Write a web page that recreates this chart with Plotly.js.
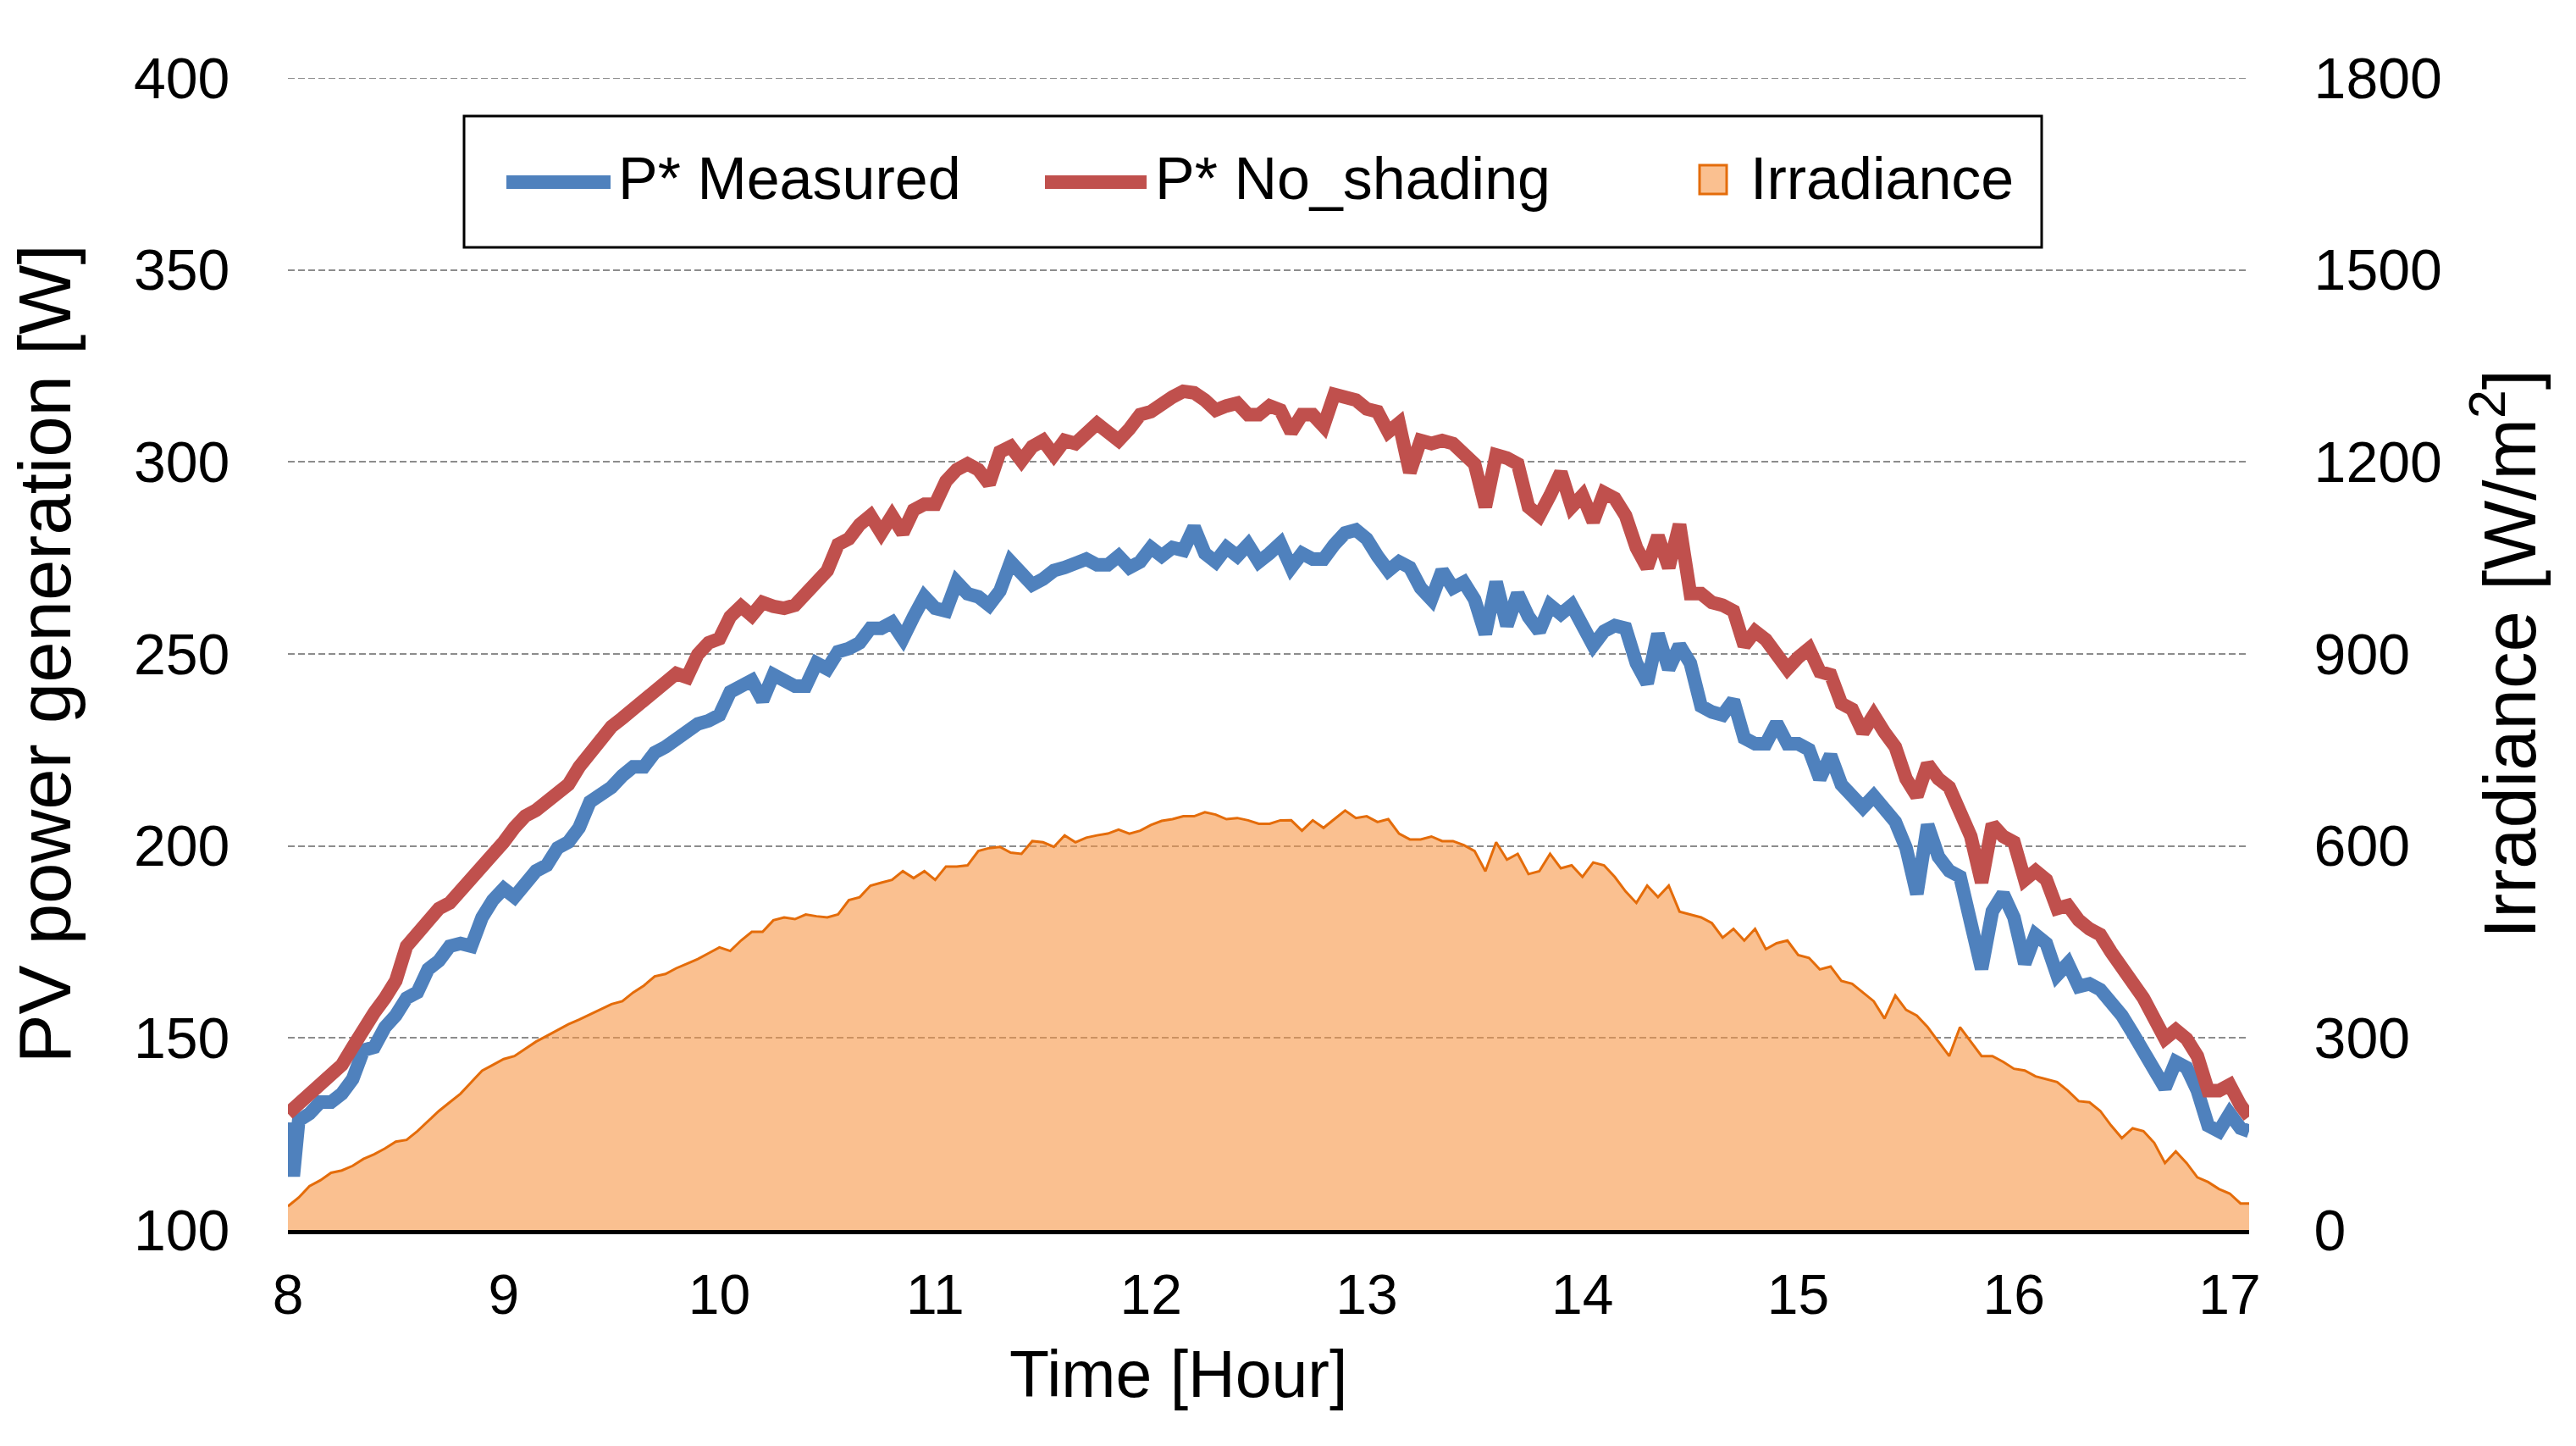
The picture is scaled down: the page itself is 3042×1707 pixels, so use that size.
<!DOCTYPE html>
<html>
<head>
<meta charset="utf-8">
<script src="https://cdn.plot.ly/plotly-3.0.1.min.js"></script>
<style>html,body{margin:0;padding:0;background:#fff;}#chart{width:3042px;height:1707px;}</style>
</head>
<body>
<div id="chart"></div>
<script>
// Time of day [hour]
const timeHour = [8.00,8.025,8.05,8.10,8.15,8.20,8.25,8.30,8.35,8.40,8.45,8.50,8.55,8.60,8.65,8.70,8.75,8.80,8.85,8.90,8.95,
9.00,9.05,9.10,9.15,9.20,9.25,9.30,9.35,9.40,9.45,9.50,9.55,9.60,9.65,9.70,9.75,9.80,9.85,9.90,9.95,
10.00,10.05,10.10,10.15,10.20,10.25,10.30,10.35,10.40,10.45,10.50,10.55,10.60,10.65,10.70,10.75,10.80,10.85,10.90,10.95,
11.00,11.05,11.10,11.15,11.20,11.25,11.30,11.35,11.40,11.45,11.50,11.55,11.60,11.65,11.70,11.75,11.80,11.85,11.90,11.95,
12.00,12.05,12.10,12.15,12.20,12.25,12.30,12.35,12.40,12.45,12.50,12.55,12.60,12.65,12.70,12.75,12.80,12.85,12.90,12.95,
13.00,13.05,13.10,13.15,13.20,13.25,13.30,13.35,13.40,13.45,13.50,13.55,13.60,13.65,13.70,13.75,13.80,13.85,13.90,13.95,
14.00,14.05,14.10,14.15,14.20,14.25,14.30,14.35,14.40,14.45,14.50,14.55,14.60,14.65,14.70,14.75,14.80,14.85,14.90,14.95,
15.00,15.05,15.10,15.15,15.20,15.25,15.30,15.35,15.40,15.45,15.50,15.55,15.60,15.65,15.70,15.75,15.80,15.85,15.90,15.95,
16.00,16.05,16.10,16.15,16.20,16.25,16.30,16.35,16.40,16.45,16.50,16.55,16.60,16.65,16.70,16.75,16.80,16.85,16.90,16.95,
17.00,17.05,17.09];

// P* Measured [W]
const pMeasured = [128,114,128.5,130.3,133.3,133.3,135.5,139.3,146.8,147.6,152.8,155.9,160.4,161.9,167.9,170.1,173.9,174.6,173.9,181.4,185.9,
188.9,186.7,190.4,193.5,195,199.5,201,204.8,211.5,213,215.3,218.3,220.6,220.6,224.3,225.8,228.1,229.6,231.8,232.6,
234.1,240.1,241.6,243.1,237.9,244.6,243.1,241.6,241.6,247.6,246.1,250.6,251.4,252.9,256.7,256.7,258.2,254,259.7,264.9,
261.9,261.2,268.7,265.7,264.9,262.7,266.4,274,271,268,269.5,271.7,272.5,274,274.7,273.2,273.2,275.5,272.5,274,
277.7,275.5,277.7,277,283,276.2,274,277.7,275.5,278.5,274,276.2,278.8,272.5,276.2,274.7,274.7,278.5,281.5,282.3,
280,275.5,271.7,274,272.5,267.2,264.2,271.7,267.2,268.7,264.2,255.2,268.7,257.4,265.7,259.7,255.9,262.7,260.4,262.7,
258.2,252.2,255.9,257.4,256.7,247.6,242.4,255.2,246.1,252.2,247.6,236.4,234.9,234.1,237.9,228.1,226.6,226.6,232,226.6,
226.6,225.1,217.5,223.6,216,212.3,210,213,209.3,206.3,199.5,187.5,205.5,197.2,193.5,192,180,168,183,187.5,
181.4,169.4,176.9,174.6,166.4,169.4,163.4,164.1,162.6,159.6,155.9,151.3,146.8,142.3,137,143.8,142.3,136.3,127.2,125.7,
130.3,126.5,125.7];

// P* No_shading [W]
const pNoShading = [130.3,131.5,132.5,135.5,137.8,140,143,147.6,152.8,156.6,160.4,164.9,173.9,176.9,179.9,183.7,185.2,188.2,191.2,194.2,198,
201,204.8,207.8,209.3,211.5,214.5,216,220.6,224.3,228.8,231.1,233.3,235.6,237.9,240.9,243.1,244.9,243.9,249.9,252.9,
254,259.7,262.4,260,263.4,262.4,261.9,262.7,265.7,269.5,271.7,278.5,280,283.7,286,281.5,286,281.5,287.5,289,
289,295,298,299.5,298,294.3,302.6,304,300.3,304,305.6,301.8,305.6,304.8,307,310,307.8,305.6,308.6,312.3,
313.1,315.3,316.9,318.4,318,316.1,313.5,314.6,315.3,312.3,312.3,314.6,313.5,307.8,312.3,312.3,309.3,317.6,316.9,316.1,
313.8,313.1,307.8,310.1,297.3,305.6,304.8,305.6,304.8,302.6,299.5,288.3,301.8,301,299.5,288.3,286,291.3,297.3,288.3,
291.3,284.5,292,290.5,286,277.7,272.5,280.7,272.5,283.7,265.7,265.7,263.4,262.7,261.2,252.2,255.9,253.7,250,246.1,
249.1,251.4,245.4,244.6,237.1,235.6,229.6,234.1,229.6,225.8,217.5,213,221.3,217.5,215.3,209.3,202.5,190.5,205.6,202.5,
201,191.2,193.5,191.2,183.7,184.5,180.7,178.4,176.9,172.4,168.6,164.9,160.4,155.1,149.8,152.1,149.8,145.3,136.3,136.3,
137.8,132.5,129.5];

// Irradiance [W/m2]
const irradiance = [37,44,50.6,68.6,77.6,89.4,93,100.2,111,118.3,127.3,138.1,140.8,154.4,170.6,186,199.5,213,231,249,258,
267,271.7,282.6,294.3,303.3,312.4,321.4,328.6,336.7,344,353,357.5,371,381.9,396.3,400,409,416.2,423.4,432.4,
441.5,436,452.3,465.8,465.8,483.9,488.4,485.7,493,490.2,488.4,493,515.5,520,538,542.6,547,560.6,549.8,560.6,
547,567.9,567.9,569.7,592.2,596.7,598.6,589.5,587.7,607.6,605.8,598.6,616.6,605.8,613,616.6,619.3,625.6,619.3,623.8,
632.9,639.2,641.9,646.4,646.4,652.7,649.1,641.9,643.7,640.1,634.7,634.7,640,640.1,623.8,640.1,628.3,641.9,655.4,643.7,
646.4,637.4,641.9,619.3,610.3,610.3,614.8,607.6,607.6,601.3,592.2,560.6,605.8,578.7,587.7,556.1,560.6,587.7,565.1,569.7,
551.6,574.2,569.7,551.6,529,511,538,520,538,497.4,493,488.4,479.4,456.8,470.4,452.3,470.4,438.8,448,452.3,
429.7,425.2,407.2,411.7,389.1,384.6,371,357.5,330.4,366.5,344,335,316.9,294.3,271.7,316.9,294.3,271.7,271.7,262.7,
251.9,249.2,240.1,235.6,231.1,217.6,201.3,199.5,186,163.4,143.5,158.9,154.4,136.3,104.7,122.8,104.7,82.2,74.9,64.1,
56.9,41.5,41.5];

const xTicks = [8,9,10,11,12,13,14,15,16,17];
const powerTicks = [100,150,200,250,300,350,400];
const irrTicks = [0,300,600,900,1200,1500,1800];

const FONT = '"Liberation Sans", Arial, Helvetica, sans-serif';
const BLUE = '#4F81BD', RED = '#C0504D', ORANGE_LINE = '#E46C0A', ORANGE_FILL = 'rgba(247,150,70,0.6)';
const GRID = '#8c8c8c';

const traces = [
  {x: timeHour, y: irradiance, name: 'Irradiance', type: 'scatter', mode: 'lines',
   yaxis: 'y', fill: 'tozeroy', fillcolor: ORANGE_FILL, line: {color: ORANGE_LINE, width: 3}},
  {x: timeHour, y: pMeasured, name: 'P* Measured', type: 'scatter', mode: 'lines',
   yaxis: 'y2', line: {color: BLUE, width: 16}},
  {x: timeHour, y: pNoShading, name: 'P* No_shading', type: 'scatter', mode: 'lines',
   yaxis: 'y2', line: {color: RED, width: 16}}
];

// plot area in px: left 340, right 2656, top 92, bottom 1452
const L = 340, R = 2656, T = 92, B = 1452;
const px = v => (v - L) / (R - L);
const py = v => (B - v) / (B - T);

const legFont = {family: FONT, size: 70, color: '#000'};

const layout = {
  width: 3042, height: 1707,
  margin: {l: L, r: 3042 - R, t: T, b: 1707 - B, pad: 0},
  paper_bgcolor: '#fff', plot_bgcolor: 'rgba(0,0,0,0)',
  showlegend: false,
  font: {family: FONT, color: '#000'},
  xaxis: {
    range: [8, 17.09], tickvals: xTicks, ticktext: xTicks.map(String),
    showgrid: false, zeroline: false,
    showline: true, linecolor: '#000', linewidth: 5,
    ticks: 'outside', ticklen: 15, tickcolor: 'rgba(0,0,0,0)',
    tickfont: {family: FONT, size: 66, color: '#000'},
    automargin: false
  },
  yaxis: {
    side: 'right', range: [0, 1800], tickvals: irrTicks, ticktext: irrTicks.map(String),
    showgrid: false, zeroline: false, showline: false,
    ticks: 'outside', ticklen: 62, tickcolor: 'rgba(0,0,0,0)',
    tickfont: {family: FONT, size: 68, color: '#000'},
    title: {text: 'Irradiance [W/m<sup>2</sup>]', font: {family: FONT, size: 87, color: '#000'}, standoff: 50},
    automargin: false
  },
  yaxis2: {
    side: 'left', overlaying: 'y', range: [100, 400], tickvals: powerTicks, ticktext: powerTicks.map(String),
    showgrid: true, gridcolor: GRID, gridwidth: 2, griddash: '8px,4px',
    zeroline: false, showline: false,
    ticks: 'outside', ticklen: 54, tickcolor: 'rgba(0,0,0,0)',
    tickfont: {family: FONT, size: 68, color: '#000'},
    title: {text: 'PV power generation [W]', font: {family: FONT, size: 87, color: '#000'}, standoff: 45},
    automargin: false
  },
  shapes: [
    // top gridline at 400 W (Plotly omits gridlines at the range edge)
    {type: 'line', xref: 'paper', yref: 'y2', x0: 0, x1: 1, y0: powerTicks[powerTicks.length - 1], y1: powerTicks[powerTicks.length - 1],
     line: {color: GRID, width: 2, dash: '8px,4px'}, layer: 'below'},
    {type: 'rect', xref: 'paper', yref: 'paper', x0: px(548), x1: px(2411), y0: py(292), y1: py(137),
     line: {color: '#000', width: 3}, fillcolor: '#fff', layer: 'above'},
    {type: 'line', xref: 'paper', yref: 'paper', x0: px(598), x1: px(721), y0: py(215), y1: py(215),
     line: {color: BLUE, width: 16}, layer: 'above'},
    {type: 'line', xref: 'paper', yref: 'paper', x0: px(1234), x1: px(1354), y0: py(215), y1: py(215),
     line: {color: RED, width: 16}, layer: 'above'},
    {type: 'rect', xref: 'paper', yref: 'paper', x0: px(2007), x1: px(2039), y0: py(229), y1: py(195),
     line: {color: ORANGE_LINE, width: 3}, fillcolor: '#FAC090', layer: 'above'}
  ],
  annotations: [
    {text: 'P* Measured', xref: 'paper', yref: 'paper', x: px(728), y: py(211), xanchor: 'left', yanchor: 'middle', showarrow: false, font: legFont},
    {text: 'P* No_shading', xref: 'paper', yref: 'paper', x: px(1362), y: py(211), xanchor: 'left', yanchor: 'middle', showarrow: false, font: legFont},
    {text: 'Irradiance', xref: 'paper', yref: 'paper', x: px(2065), y: py(211), xanchor: 'left', yanchor: 'middle', showarrow: false, font: legFont},
    {text: 'Time [Hour]', xref: 'paper', yref: 'paper', x: px(1391), y: py(1622), xanchor: 'center', yanchor: 'middle', showarrow: false,
     font: {family: FONT, size: 77, color: '#000'}}
  ]
};

Plotly.newPlot('chart', traces, layout, {displayModeBar: false, responsive: false});
</script>
</body>
</html>
